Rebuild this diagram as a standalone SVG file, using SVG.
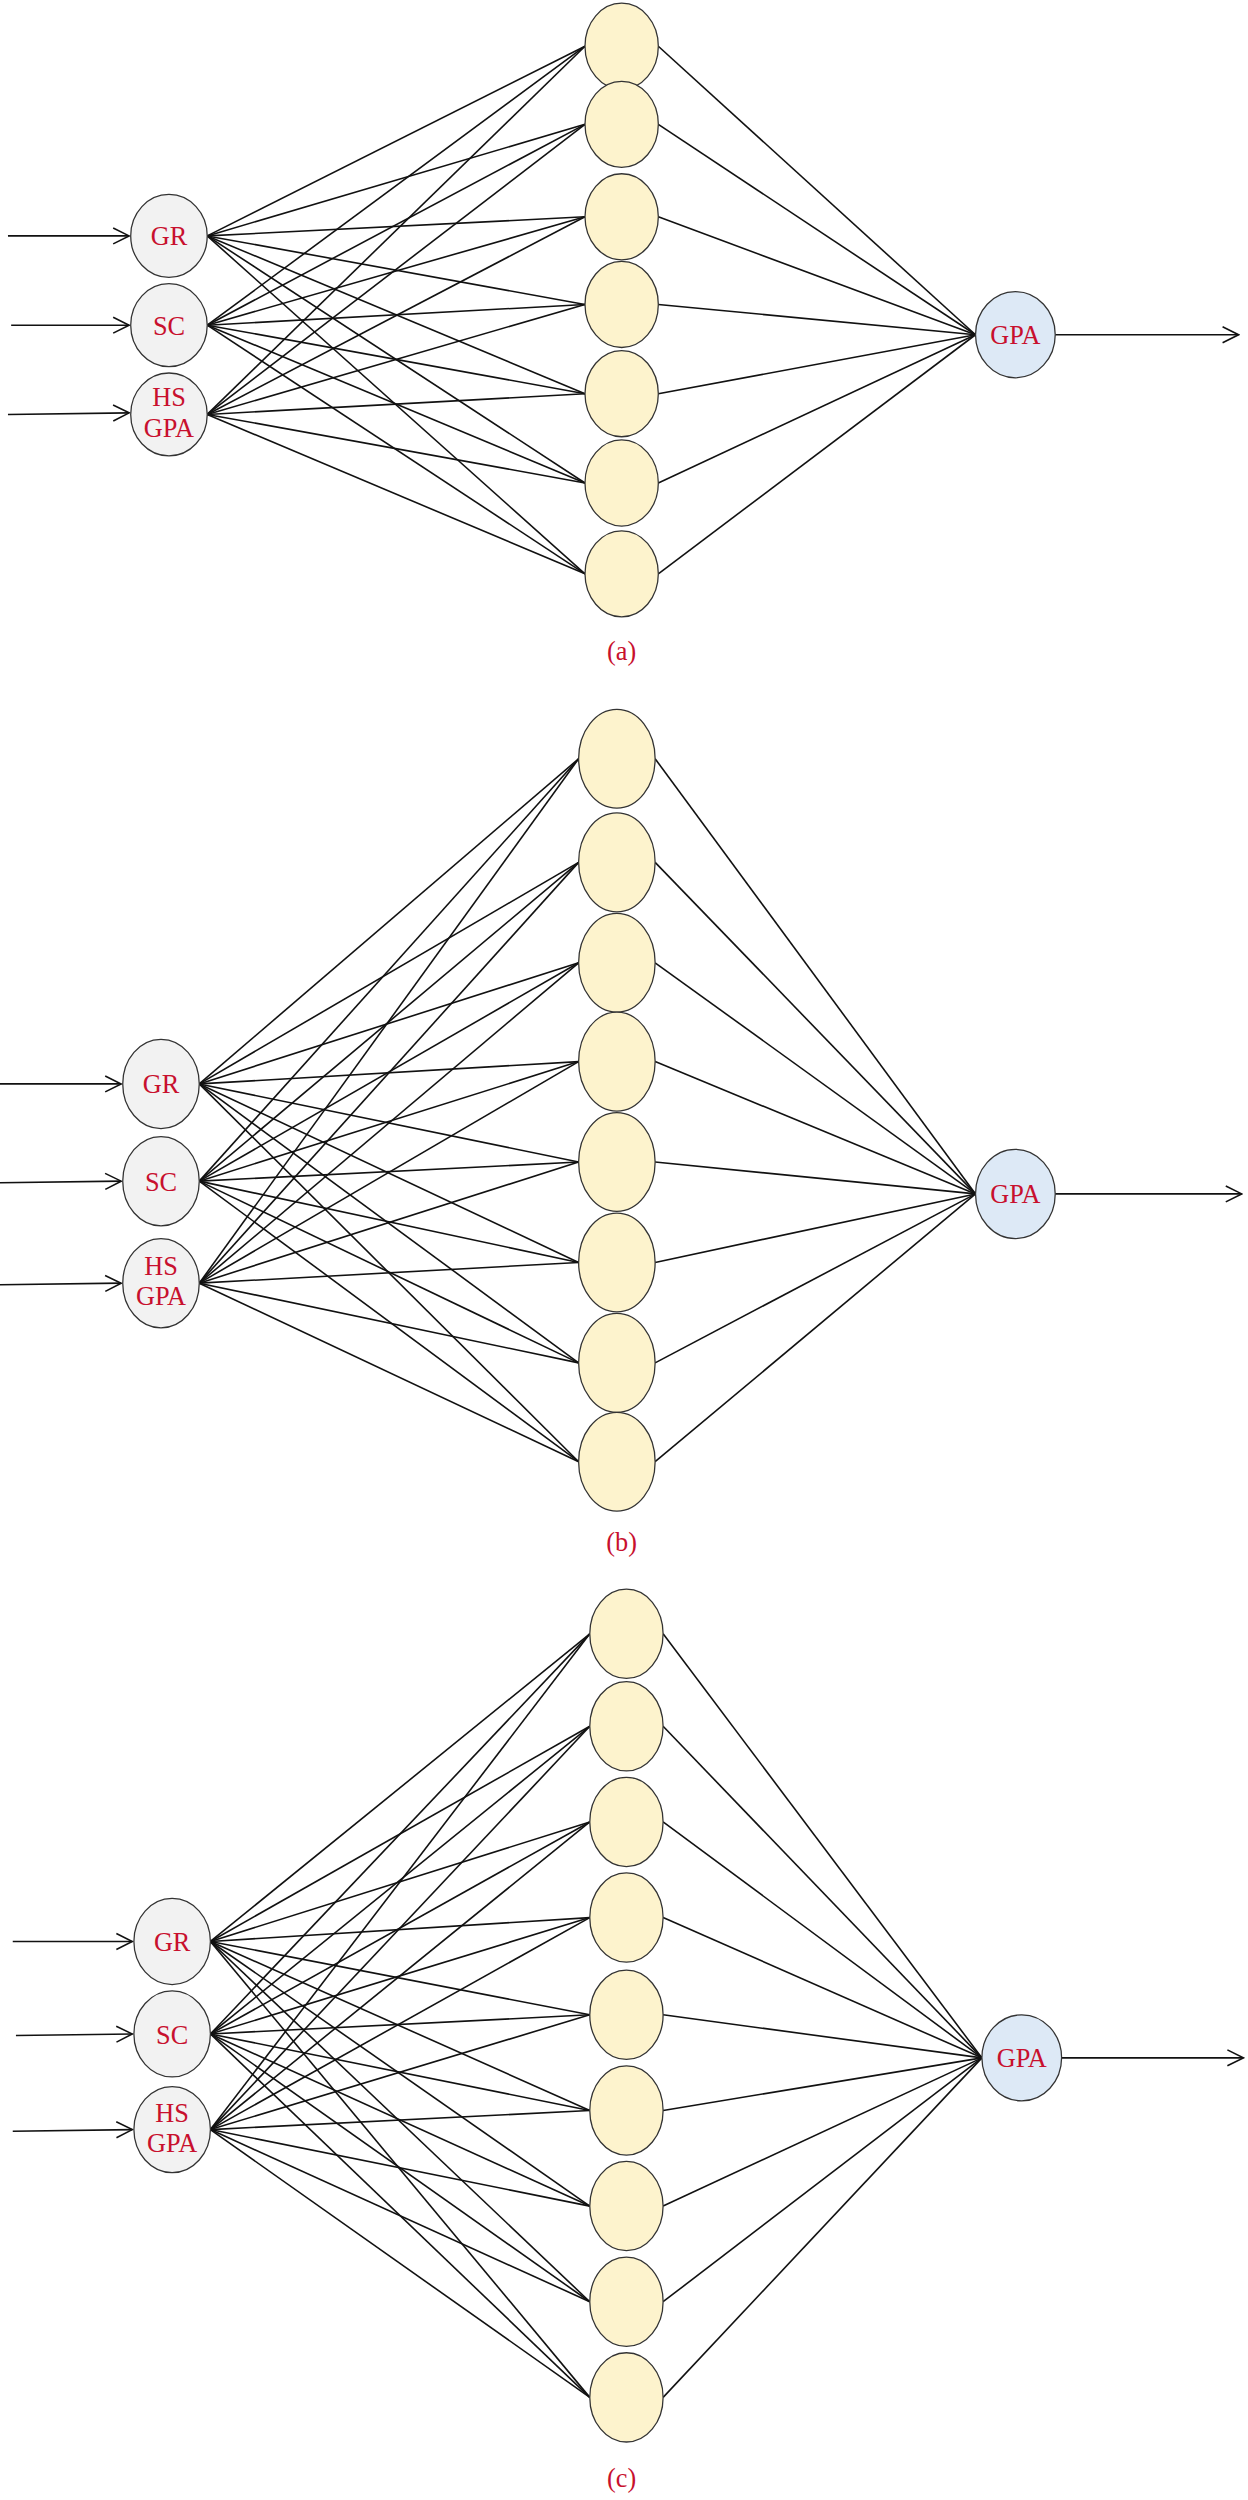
<svg xmlns="http://www.w3.org/2000/svg" width="1248" height="2500" viewBox="0 0 1248 2500">
<defs>
<style>
.in{fill:#f2f2f2;stroke:#333;stroke-width:0.8}
.hd{fill:#fdf3cd;stroke:#333;stroke-width:0.8}
.out{fill:#dde9f6;stroke:#333;stroke-width:0.8}
.t{font-family:"Liberation Serif",serif;font-size:16.5px;fill:#c8102e;text-anchor:middle}
.c line{stroke:#111;stroke-width:1}
.a line{stroke:#111;stroke-width:1;marker-end:url(#ar)}
</style>
<marker id="ar" viewBox="0 0 12 12" refX="11" refY="6" markerWidth="12" markerHeight="12" markerUnits="userSpaceOnUse" orient="auto"><path d="M1,1 L11,6 L1,11" fill="none" stroke="#111" stroke-width="1"/></marker>
</defs>
<rect width="1248" height="2500" fill="#fff"/>
<g transform="scale(1.594)">
<g class="c" id="connectors-a">
<line x1="130" y1="148" x2="367" y2="29"/><line x1="130" y1="148" x2="367" y2="78"/><line x1="130" y1="148" x2="367" y2="136"/><line x1="130" y1="148" x2="367" y2="191"/><line x1="130" y1="148" x2="367" y2="247"/><line x1="130" y1="148" x2="367" y2="303"/><line x1="130" y1="148" x2="367" y2="360"/>
<line x1="130" y1="204" x2="367" y2="29"/><line x1="130" y1="204" x2="367" y2="78"/><line x1="130" y1="204" x2="367" y2="136"/><line x1="130" y1="204" x2="367" y2="191"/><line x1="130" y1="204" x2="367" y2="247"/><line x1="130" y1="204" x2="367" y2="303"/><line x1="130" y1="204" x2="367" y2="360"/>
<line x1="130" y1="260" x2="367" y2="29"/><line x1="130" y1="260" x2="367" y2="78"/><line x1="130" y1="260" x2="367" y2="136"/><line x1="130" y1="260" x2="367" y2="191"/><line x1="130" y1="260" x2="367" y2="247"/><line x1="130" y1="260" x2="367" y2="303"/><line x1="130" y1="260" x2="367" y2="360"/>
<line x1="413" y1="29" x2="612" y2="210"/><line x1="413" y1="78" x2="612" y2="210"/><line x1="413" y1="136" x2="612" y2="210"/><line x1="413" y1="191" x2="612" y2="210"/><line x1="413" y1="247" x2="612" y2="210"/><line x1="413" y1="303" x2="612" y2="210"/><line x1="413" y1="360" x2="612" y2="210"/>
</g>
<g class="a" id="arrows-a">
<line x1="5" y1="148" x2="81" y2="148"/><line x1="7" y1="204" x2="81" y2="204"/><line x1="5" y1="260" x2="81" y2="259"/><line x1="662" y1="210" x2="777" y2="210"/>
</g>
<g class="c" id="connectors-b">
<line x1="125" y1="680" x2="363" y2="476"/><line x1="125" y1="680" x2="363" y2="541"/><line x1="125" y1="680" x2="363" y2="604"/><line x1="125" y1="680" x2="363" y2="666"/><line x1="125" y1="680" x2="363" y2="729"/><line x1="125" y1="680" x2="363" y2="792"/><line x1="125" y1="680" x2="363" y2="855"/><line x1="125" y1="680" x2="363" y2="917"/>
<line x1="125" y1="741" x2="363" y2="476"/><line x1="125" y1="741" x2="363" y2="541"/><line x1="125" y1="741" x2="363" y2="604"/><line x1="125" y1="741" x2="363" y2="666"/><line x1="125" y1="741" x2="363" y2="729"/><line x1="125" y1="741" x2="363" y2="792"/><line x1="125" y1="741" x2="363" y2="855"/><line x1="125" y1="741" x2="363" y2="917"/>
<line x1="125" y1="805" x2="363" y2="476"/><line x1="125" y1="805" x2="363" y2="541"/><line x1="125" y1="805" x2="363" y2="604"/><line x1="125" y1="805" x2="363" y2="666"/><line x1="125" y1="805" x2="363" y2="729"/><line x1="125" y1="805" x2="363" y2="792"/><line x1="125" y1="805" x2="363" y2="855"/><line x1="125" y1="805" x2="363" y2="917"/>
<line x1="411" y1="476" x2="612" y2="749"/><line x1="411" y1="541" x2="612" y2="749"/><line x1="411" y1="604" x2="612" y2="749"/><line x1="411" y1="666" x2="612" y2="749"/><line x1="411" y1="729" x2="612" y2="749"/><line x1="411" y1="792" x2="612" y2="749"/><line x1="411" y1="855" x2="612" y2="749"/><line x1="411" y1="917" x2="612" y2="749"/>
</g>
<g class="a" id="arrows-b">
<line x1="0" y1="680" x2="76" y2="680"/><line x1="0" y1="742" x2="76" y2="741"/><line x1="0" y1="806" x2="76" y2="805"/><line x1="662" y1="749" x2="779" y2="749"/>
</g>
<g class="c" id="connectors-c">
<line x1="132" y1="1218" x2="370" y2="1025"/><line x1="132" y1="1218" x2="370" y2="1083"/><line x1="132" y1="1218" x2="370" y2="1143"/><line x1="132" y1="1218" x2="370" y2="1203"/><line x1="132" y1="1218" x2="370" y2="1264"/><line x1="132" y1="1218" x2="370" y2="1324"/><line x1="132" y1="1218" x2="370" y2="1384"/><line x1="132" y1="1218" x2="370" y2="1444"/><line x1="132" y1="1218" x2="370" y2="1504"/>
<line x1="132" y1="1276" x2="370" y2="1025"/><line x1="132" y1="1276" x2="370" y2="1083"/><line x1="132" y1="1276" x2="370" y2="1143"/><line x1="132" y1="1276" x2="370" y2="1203"/><line x1="132" y1="1276" x2="370" y2="1264"/><line x1="132" y1="1276" x2="370" y2="1324"/><line x1="132" y1="1276" x2="370" y2="1384"/><line x1="132" y1="1276" x2="370" y2="1444"/><line x1="132" y1="1276" x2="370" y2="1504"/>
<line x1="132" y1="1336" x2="370" y2="1025"/><line x1="132" y1="1336" x2="370" y2="1083"/><line x1="132" y1="1336" x2="370" y2="1143"/><line x1="132" y1="1336" x2="370" y2="1203"/><line x1="132" y1="1336" x2="370" y2="1264"/><line x1="132" y1="1336" x2="370" y2="1324"/><line x1="132" y1="1336" x2="370" y2="1384"/><line x1="132" y1="1336" x2="370" y2="1444"/><line x1="132" y1="1336" x2="370" y2="1504"/>
<line x1="416" y1="1025" x2="616" y2="1291"/><line x1="416" y1="1083" x2="616" y2="1291"/><line x1="416" y1="1143" x2="616" y2="1291"/><line x1="416" y1="1203" x2="616" y2="1291"/><line x1="416" y1="1264" x2="616" y2="1291"/><line x1="416" y1="1324" x2="616" y2="1291"/><line x1="416" y1="1384" x2="616" y2="1291"/><line x1="416" y1="1444" x2="616" y2="1291"/><line x1="416" y1="1504" x2="616" y2="1291"/>
</g>
<g class="a" id="arrows-c">
<line x1="8" y1="1218" x2="83" y2="1218"/><line x1="10" y1="1277" x2="83" y2="1276"/><line x1="8" y1="1337" x2="83" y2="1336"/><line x1="666" y1="1291" x2="780" y2="1291"/>
</g>
<g id="a-GR"><ellipse class="in" cx="106" cy="148" rx="24" ry="26"/><text class="t" x="106" y="154">GR</text></g>
<g id="a-SC"><ellipse class="in" cx="106" cy="204" rx="24" ry="26"/><text class="t" x="106" y="210">SC</text></g>
<g id="a-HSGPA"><ellipse class="in" cx="106" cy="260" rx="24" ry="26"/><text class="t" x="106" y="255">HS</text><text class="t" x="106" y="274">GPA</text></g>
<g id="a-hidden">
<ellipse class="hd" cx="390" cy="29" rx="23" ry="27"/><ellipse class="hd" cx="390" cy="78" rx="23" ry="27"/><ellipse class="hd" cx="390" cy="136" rx="23" ry="27"/><ellipse class="hd" cx="390" cy="191" rx="23" ry="27"/><ellipse class="hd" cx="390" cy="247" rx="23" ry="27"/><ellipse class="hd" cx="390" cy="303" rx="23" ry="27"/><ellipse class="hd" cx="390" cy="360" rx="23" ry="27"/>
</g>
<g id="a-GPA"><ellipse class="out" cx="637" cy="210" rx="25" ry="27"/><text class="t" x="637" y="216">GPA</text></g>
<text class="t" x="390" y="414">(a)</text>
<g id="b-GR"><ellipse class="in" cx="101" cy="680" rx="24" ry="28"/><text class="t" x="101" y="686">GR</text></g>
<g id="b-SC"><ellipse class="in" cx="101" cy="741" rx="24" ry="28"/><text class="t" x="101" y="747">SC</text></g>
<g id="b-HSGPA"><ellipse class="in" cx="101" cy="805" rx="24" ry="28"/><text class="t" x="101" y="800">HS</text><text class="t" x="101" y="819">GPA</text></g>
<g id="b-hidden">
<ellipse class="hd" cx="387" cy="476" rx="24" ry="31"/><ellipse class="hd" cx="387" cy="541" rx="24" ry="31"/><ellipse class="hd" cx="387" cy="604" rx="24" ry="31"/><ellipse class="hd" cx="387" cy="666" rx="24" ry="31"/><ellipse class="hd" cx="387" cy="729" rx="24" ry="31"/><ellipse class="hd" cx="387" cy="792" rx="24" ry="31"/><ellipse class="hd" cx="387" cy="855" rx="24" ry="31"/><ellipse class="hd" cx="387" cy="917" rx="24" ry="31"/>
</g>
<g id="b-GPA"><ellipse class="out" cx="637" cy="749" rx="25" ry="28"/><text class="t" x="637" y="755">GPA</text></g>
<text class="t" x="390" y="973">(b)</text>
<g id="c-GR"><ellipse class="in" cx="108" cy="1218" rx="24" ry="27"/><text class="t" x="108" y="1224">GR</text></g>
<g id="c-SC"><ellipse class="in" cx="108" cy="1276" rx="24" ry="27"/><text class="t" x="108" y="1282">SC</text></g>
<g id="c-HSGPA"><ellipse class="in" cx="108" cy="1336" rx="24" ry="27"/><text class="t" x="108" y="1331">HS</text><text class="t" x="108" y="1350">GPA</text></g>
<g id="c-hidden">
<ellipse class="hd" cx="393" cy="1025" rx="23" ry="28"/><ellipse class="hd" cx="393" cy="1083" rx="23" ry="28"/><ellipse class="hd" cx="393" cy="1143" rx="23" ry="28"/><ellipse class="hd" cx="393" cy="1203" rx="23" ry="28"/><ellipse class="hd" cx="393" cy="1264" rx="23" ry="28"/><ellipse class="hd" cx="393" cy="1324" rx="23" ry="28"/><ellipse class="hd" cx="393" cy="1384" rx="23" ry="28"/><ellipse class="hd" cx="393" cy="1444" rx="23" ry="28"/><ellipse class="hd" cx="393" cy="1504" rx="23" ry="28"/>
</g>
<g id="c-GPA"><ellipse class="out" cx="641" cy="1291" rx="25" ry="27"/><text class="t" x="641" y="1297">GPA</text></g>
<text class="t" x="390" y="1560">(c)</text>
</g>
</svg>
